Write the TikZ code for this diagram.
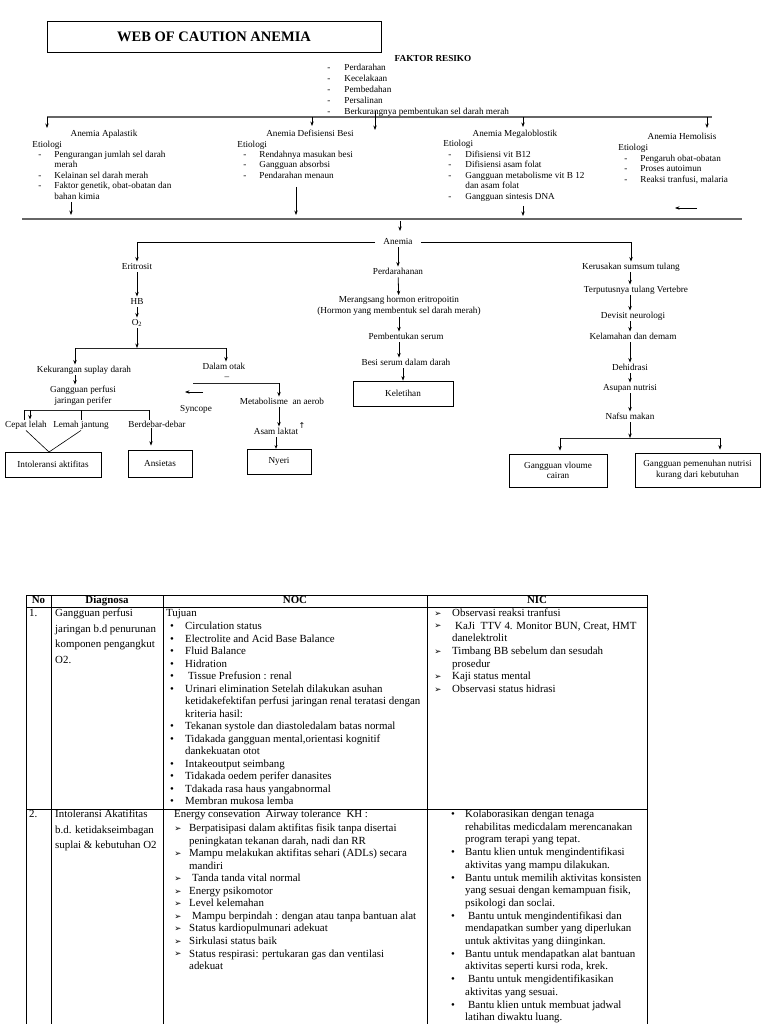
\documentclass[tikz,border=0pt]{standalone}
\usepackage{fontspec}
\setmainfont{Liberation Serif}
\newfontfamily\djv{DejaVu Sans}
\usetikzlibrary{arrows.meta}
\begin{document}
\begin{tikzpicture}[x=1pt,y=-1pt,
 lbl/.style={font=\fontsize{9.2}{10.5}\selectfont, inner sep=1.2pt, text height=6.2pt, text depth=1.9pt},
 lblb/.style={lbl, font=\fontsize{9.2}{10.5}\selectfont\bfseries},
 lblm/.style={font=\fontsize{9.2}{10.5}\selectfont, inner sep=1.2pt, align=center},
 tx/.style={font=\fontsize{10.9}{12.5}\selectfont, inner sep=0pt, text height=7.3pt, text depth=2.2pt},
 txb/.style={tx, font=\fontsize{10.9}{12.5}\selectfont\bfseries},
 arw/.style={-{Stealth[length=4.5pt,width=3.4pt]}, line width=0.8pt},
 hbar/.style={line width=1.3pt, black!60},
 mbar/.style={line width=0.8pt, black!85},
 bx/.style={draw, line width=0.7pt, font=\fontsize{9.2}{10.5}\selectfont, align=center, inner sep=0pt},
 tline/.style={line width=0.9pt},
 arrg/.style={font=\djv\fontsize{8.5}{9}\selectfont, inner sep=0pt},
]
\useasboundingbox (0,0) rectangle (768,1024);
\fill[white] (0,0) rectangle (768,1024);

% ---------- title ----------
\node[draw, line width=0.8pt, minimum width=334pt, minimum height=31pt, inner sep=0pt,
      font=\fontsize{14.5}{16}\selectfont\bfseries] (title) at (214,36.5) {WEB OF CAUTION ANEMIA};

% ---------- faktor resiko ----------
\node[lblb] (fr) at (433,59) {FAKTOR RESIKO};
\foreach \t [count=\i] in {Perdarahan,Kecelakaan,Pembedahan,Persalinan,Berkurangnya pembentukan sel darah merah}{
  \node[lbl,anchor=west] (fr\i) at (343,57+11*\i) {\t};
  \node[lbl] (frd\i) at (329,57+11*\i) {-};
}
\coordinate (tbl) at (47,117); \coordinate (tbr) at (712,117);
\draw[hbar] (tbl) -- (tbr);
\foreach \x/\a/\b [count=\i] in {47/117/128, 312/117/126, 375/111/130, 523/117/127, 707/117/128}{
  \coordinate (ta\i) at (\x,\a); \coordinate (tz\i) at (\x,\b);
  \draw[arw] (ta\i) -- (tz\i);
}

% ---------- etiologies ----------
\node[lbl] (apl) at (104,134) {Anemia Apalastik};
\node[lbl,anchor=west] (aple) at (31,145) {Etiologi};
\foreach \t/\d [count=\i from 0] in {{Pengurangan jumlah sel darah}/1, merah/0, {Kelainan sel darah merah}/1, {Faktor genetik, obat-obatan dan}/1, {bahan kimia}/0}{
  \node[lbl,anchor=west] (apl\i) at (53,155+10.5*\i) {\t};
  \ifnum\d=1 \node[lbl] (apld\i) at (40,155+10.5*\i) {-};\fi
}
\node[lbl] (def) at (310,134) {Anemia Defisiensi Besi};
\node[lbl,anchor=west] (defe) at (236,145) {Etiologi};
\foreach \t [count=\i from 0] in {Rendahnya masukan besi, Gangguan absorbsi, Pendarahan menaun}{
  \node[lbl,anchor=west] (def\i) at (258,155+10.5*\i) {\t};
  \node[lbl] (defd\i) at (245,155+10.5*\i) {-};
}
\node[lbl] (meg) at (515,134) {Anemia Megaloblostik};
\node[lbl,anchor=west] (mege) at (442,144) {Etiologi};
\foreach \t/\d [count=\i from 0] in {{Difisiensi vit B12}/1, {Difisiensi asam folat}/1, {Gangguan metabolisme vit B 12}/1, {dan asam folat}/0, {Gangguan sintesis DNA}/1}{
  \node[lbl,anchor=west] (meg\i) at (464,155+10.5*\i) {\t};
  \ifnum\d=1 \node[lbl] (megd\i) at (450,155+10.5*\i) {-};\fi
}
\node[lbl] (hem) at (682,137) {Anemia Hemolisis};
\node[lbl,anchor=west] (heme) at (617,148) {Etiologi};
\foreach \t [count=\i from 0] in {Pengaruh obat-obatan, Proses autoimun, {Reaksi tranfusi, malaria}}{
  \node[lbl,anchor=west] (hem\i) at (639,159+10.5*\i) {\t};
  \node[lbl] (hemd\i) at (626,159+10.5*\i) {-};
}
\coordinate (ea1) at (71,202);  \coordinate (eb1) at (71,215);  \draw[arw] (ea1) -- (eb1);
\coordinate (ea2) at (296,187); \coordinate (eb2) at (296,215); \draw[arw] (ea2) -- (eb2);
\coordinate (ea3) at (523,206); \coordinate (eb3) at (523,216); \draw[arw] (ea3) -- (eb3);
\coordinate (ea4) at (697,208); \coordinate (eb4) at (675,208); \draw[arw] (ea4) -- (eb4);

\coordinate (mbl) at (22,219); \coordinate (mbr) at (742,219);
\draw[hbar] (mbl) -- (mbr);
\coordinate (ma) at (400,221); \coordinate (mz) at (400,231); \draw[arw] (ma) -- (mz);

% ---------- anemia web ----------
\node[lbl, inner xsep=8pt] (anemia) at (398,242) {Anemia};
\node[lbl] (erit) at (137,267) {Eritrosit};
\node[lbl] (kst) at (631,267) {Kerusakan sumsum tulang};
\draw[arw] (anemia.west) -| (erit.north);
\draw[arw] (anemia.east) -| (kst.north);

% left branch
\node[lbl] (hb) at (137,302) {HB};
\node[lbl] (o2) at (137,323) {O\textsubscript{2}};
\draw[arw] (erit) -- (hb);
\draw[arw] (hb) -- (o2);
\coordinate (b1l) at (75,348); \coordinate (b1r) at (226,348);
\draw[mbar] (b1l) -- (b1r);
\draw[arw] (o2) -- (o2 |- b1l);
\node[lbl] (kek) at (84,370) {Kekurangan suplay darah};
\node[lbl] (otak) at (224,367) {Dalam otak};
\node[lbl] (otakm) at (227,377) {--};
\draw[arw] (b1l) -- (b1l |- kek.north);
\draw[arw] (b1r) -- (b1r |- otak.north);
\node[lbl] (gp1) at (83,390) {Gangguan perfusi};
\node[lbl] (gp2) at (83,401) {jaringan perifer};
\draw[arw] (b1l |- kek.south) -- (b1l |- gp1.north);

\node[lbl] (cl) at (26,425) {Cepat lelah};
\node[lbl] (lj) at (81,425) {Lemah jantung};
\node[lbl] (bd) at (157,425) {Berdebar-debar};
\coordinate (b3l) at (24,410); \coordinate (b3r) at (149,410);
\coordinate (b3a) at (30,410); \coordinate (b3m) at (81,410);
\draw[mbar] (b3l) -- (b3r);
\draw[line width=0.7pt] (b3l) -- (b3l |- cl.north);
\draw[arw] (b3a) -- (b3a |- cl.north);
\draw[line width=0.7pt] (b3m) -- (b3m |- lj.north);
\draw[line width=0.7pt] (b3r) -- (b3r |- bd.north);

\node[bx, minimum width=96pt, minimum height=25pt] (intol) at (53,464.5) {Intoleransi aktifitas};
\node[bx, minimum width=64pt, minimum height=27pt] (ans) at (160,463.5) {Ansietas};
\node[bx, minimum width=64pt, minimum height=25pt] (nyeri) at (279,461.5) {Nyeri};
\coordinate (meet) at (49,452);
\draw[line width=0.6pt] (cl.south) -- (meet);
\draw[line width=0.6pt] (lj.south) -- (meet);
\coordinate (bdx) at (151,428);
\draw[arw, shorten >=4pt] (bdx) -- (bdx |- ans.north);

\coordinate (b2l) at (193,383); \coordinate (b2r) at (279,383);
\draw[mbar] (b2l) -- (b2r);
\node[lbl] (met) at (282,402) {Metabolisme\ \ an aerob};
\draw[arw] (b2r) -- (b2r |- met.north);
\coordinate (sy1) at (203,392); \coordinate (sy2) at (185,392);
\draw[arw] (sy1) -- (sy2);
\node[lbl] (sync) at (196,409) {Syncope};
\node[lbl] (asam) at (276,432) {Asam laktat};
\draw[arw] (b2r |- met.south) -- (b2r |- asam.north);
\node[font=\djv\fontsize{8}{9}\selectfont, inner sep=0pt] (up) at (302,426) {↑};
\draw[-{Stealth[length=3.5pt,width=3pt]}, line width=0.5pt] (asam.south) -- (asam.south |- nyeri.north);

% middle branch
\node[lbl] (perd) at (398,272) {Perdarahanan};
\draw[arw] (anemia) -- (perd);
\node[lblm] (mer) at (399,306) {Merangsang hormon eritropoitin\\(Hormon yang membentuk sel darah merah)};
\draw[arw] (perd) -- (mer);
\node[lbl] (pem) at (406,337) {Pembentukan serum};
\draw[arw] (mer.south) -- (mer.south |- pem.north);
\node[lbl] (besi) at (406,363) {Besi serum dalam darah};
\draw[arw] (mer.south |- pem.south) -- (mer.south |- besi.north);
\node[bx, minimum width=100pt, minimum height=25pt] (kel) at (403,393.5) {Keletihan};
\draw[arw] (kel.north |- besi.south) -- (kel.north);

% right branch
\coordinate (rx) at (630,0);
\node[lbl] (tv) at (636,290) {Terputusnya tulang Vertebre};
\node[lbl] (dn) at (633,316) {Devisit neurologi};
\node[lbl] (kd) at (633,337) {Kelamahan dan demam};
\node[lbl] (dh) at (630,368) {Dehidrasi};
\node[lbl] (asn) at (630,388) {Asupan nutrisi};
\node[lbl] (nm) at (630,417) {Nafsu makan};
\draw[arw] (kst.south -| rx) -- (tv.north -| rx);
\draw[arw] (tv.south -| rx) -- (dn.north -| rx);
\draw[arw] (dn.south -| rx) -- (kd.north -| rx);
\draw[arw] (kd.south -| rx) -- (dh.north -| rx);
\draw[arw] (dh.south -| rx) -- (asn.north -| rx);
\draw[arw] (asn.south -| rx) -- (nm.north -| rx);
\coordinate (b4l) at (560,438); \coordinate (b4r) at (720,438);
\draw[mbar] (b4l) -- (b4r);
\draw[arw] (nm.south -| rx) -- (rx |- b4l);
\node[bx, minimum width=98pt, minimum height=33pt] (gvc) at (558,470.5) {Gangguan vloume\\cairan};
\node[bx, minimum width=125pt, minimum height=34pt] (gpn) at (697.5,470) {Gangguan pemenuhan nutrisi\\kurang dari kebutuhan};
\draw[arw, shorten >=3pt] (b4l) -- (b4l |- gvc.north);
\draw[arw, shorten >=3pt] (b4r) -- (b4r |- gpn.north);

% ---------- table ----------
\draw[tline] (26,595) -- (647,595);
\draw[tline] (26,607) -- (647,607);
\draw[tline] (26,809) -- (647,809);
\foreach \x in {26,51,163,427,647}{ \draw[tline] (\x,595) -- (\x,1030); }
\node[txb] (hno) at (38.5,601) {No};
\node[txb] (hdg) at (107,601) {Diagnosa};
\node[txb] (hnoc) at (295,601) {NOC};
\node[txb] (hnic) at (537,601) {NIC};

% row 1
\node[tx,anchor=west] (r1no) at (29,614) {1.};
\foreach \t [count=\i from 0] in {Gangguan perfusi, jaringan b.d penurunan, komponen pengangkut, O2.}{
  \node[tx,anchor=west] (r1d\i) at (55,614+15.7*\i) {\t};
}
\node[tx,anchor=west] (r1tuj) at (166,614) {Tujuan};
\foreach \t/\b [count=\i from 0] in {
  {Circulation status}/1,
  {Electrolite and Acid Base Balance}/1,
  {Fluid Balance}/1,
  {Hidration}/1,
  {\hspace{3pt}Tissue Prefusion : renal}/1,
  {Urinari elimination Setelah dilakukan asuhan}/1,
  {ketidakefektifan perfusi jaringan renal teratasi dengan}/0,
  {kriteria hasil:}/0,
  {Tekanan systole dan diastoledalam batas normal}/1,
  {Tidakada gangguan mental,orientasi kognitif}/1,
  {dankekuatan otot}/0,
  {Intakeoutput seimbang}/1,
  {Tidakada oedem perifer danasites}/1,
  {Tdakada rasa haus yangabnormal}/1,
  {Membran mukosa lemba}/1}{
  \node[tx,anchor=west] (r1n\i) at (185,627+12.5*\i) {\t};
  \ifnum\b=1 \node[tx] (r1nb\i) at (172,627+12.5*\i) {•};\fi
}
\foreach \t/\b [count=\i from 0] in {
  {Observasi reaksi tranfusi}/1,
  {\hspace{3pt}KaJi\ \ TTV 4. Monitor BUN, Creat, HMT}/1,
  {danelektrolit}/0,
  {Timbang BB sebelum dan sesudah}/1,
  {prosedur}/0,
  {Kaji status mental}/1,
  {Observasi status hidrasi}/1}{
  \node[tx,anchor=west] (r1c\i) at (452,614+12.67*\i) {\t};
  \ifnum\b=1 \node[arrg] (r1cb\i) at (438,614+12.67*\i) {➢};\fi
}

% row 2
\node[tx,anchor=west] (r2no) at (29,815) {2.};
\foreach \t [count=\i from 0] in {Intoleransi Akatifitas, b.d. ketidakseimbagan, suplai \& kebutuhan O2}{
  \node[tx,anchor=west] (r2d\i) at (55,815+15.5*\i) {\t};
}
\node[tx,anchor=west] (r2head) at (174,815) {Energy consevation\ \ Airway tolerance\ \ KH :};
\foreach \t/\b [count=\i from 0] in {
  {Berpatisipasi dalam aktifitas fisik tanpa disertai}/1,
  {peningkatan tekanan darah, nadi dan RR}/0,
  {Mampu melakukan aktifitas sehari (ADLs) secara}/1,
  {mandiri}/0,
  {\hspace{3pt}Tanda tanda vital normal}/1,
  {Energy psikomotor}/1,
  {Level kelemahan}/1,
  {\hspace{3pt}Mampu berpindah : dengan atau tanpa bantuan alat}/1,
  {Status kardiopulmunari adekuat}/1,
  {Sirkulasi status baik}/1,
  {Status respirasi: pertukaran gas dan ventilasi}/1,
  {adekuat}/0}{
  \node[tx,anchor=west] (r2n\i) at (189,829+12.55*\i) {\t};
  \ifnum\b=1 \node[arrg] (r2nb\i) at (178,829+12.55*\i) {➢};\fi
}
\foreach \t/\b [count=\i from 0] in {
  {Kolaborasikan dengan tenaga}/1,
  {rehabilitas medicdalam merencanakan}/0,
  {program terapi yang tepat.}/0,
  {Bantu klien untuk mengindentifikasi}/1,
  {aktivitas yang mampu dilakukan.}/0,
  {Bantu untuk memilih aktivitas konsisten}/1,
  {yang sesuai dengan kemampuan fisik,}/0,
  {psikologi dan soclai.}/0,
  {\hspace{3pt}Bantu untuk mengindentifikasi dan}/1,
  {mendapatkan sumber yang diperlukan}/0,
  {untuk aktivitas yang diinginkan.}/0,
  {Bantu untuk mendapatkan alat bantuan}/1,
  {aktivitas seperti kursi roda, krek.}/0,
  {\hspace{3pt}Bantu untuk mengidentifikasikan}/1,
  {aktivitas yang sesuai.}/0,
  {\hspace{3pt}Bantu klien untuk membuat jadwal}/1,
  {latihan diwaktu luang.}/0}{
  \node[tx,anchor=west] (r2c\i) at (465,815+12.7*\i) {\t};
  \ifnum\b=1 \node[tx] (r2cb\i) at (453,815+12.7*\i) {•};\fi
}
\end{tikzpicture}
\end{document}
